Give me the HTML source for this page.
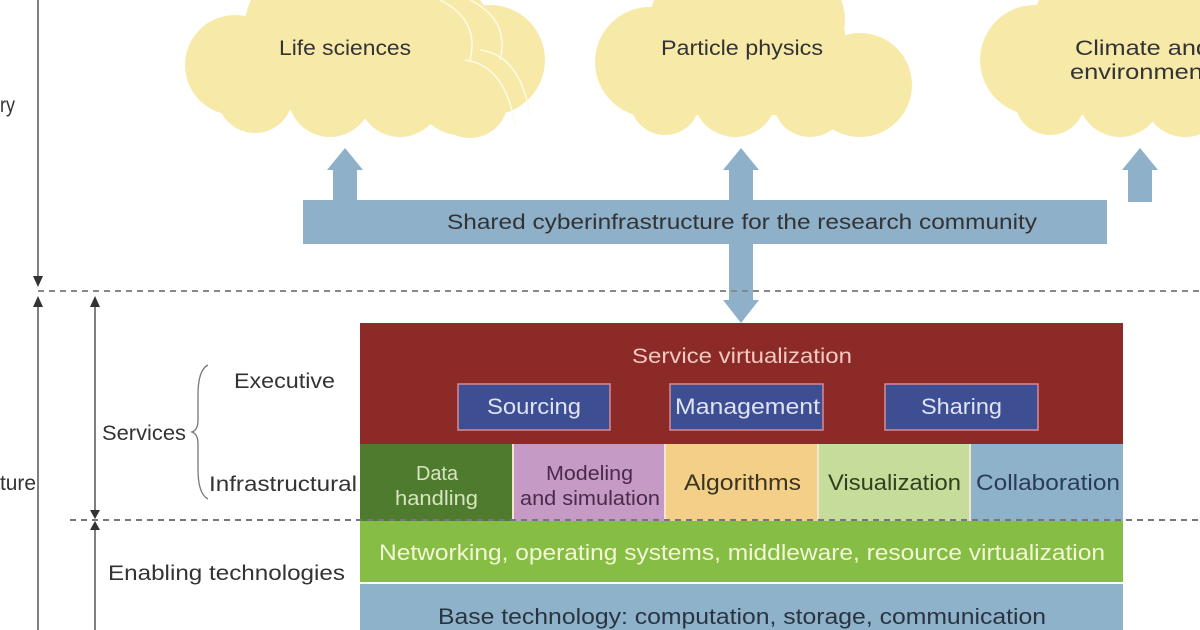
<!DOCTYPE html>
<html><head><meta charset="utf-8"><style>
html,body{margin:0;padding:0;background:#fff;}
svg{display:block;}
text{font-family:"Liberation Sans",sans-serif;}
</style></head><body>
<svg width="1200" height="630" viewBox="0 0 1200 630" xmlns="http://www.w3.org/2000/svg">
<rect width="1200" height="630" fill="#fff"/>
<g fill="#f7e9a8">
 <circle cx="490" cy="60" r="55"/><circle cx="470" cy="100" r="38"/>
 <circle cx="440" cy="30" r="50"/>
 <circle cx="235" cy="65" r="50"/><circle cx="255" cy="95" r="38"/>
 <circle cx="300" cy="25" r="55"/><circle cx="380" cy="20" r="55"/>
 <circle cx="330" cy="95" r="42"/><circle cx="400" cy="95" r="42"/>
 <circle cx="460" cy="90" r="45"/>
 <rect x="230" y="30" width="260" height="80"/>
 <circle cx="650" cy="62" r="55"/><circle cx="665" cy="100" r="35"/>
 <circle cx="700" cy="20" r="50"/><circle cx="790" cy="20" r="55"/>
 <circle cx="735" cy="95" r="42"/><circle cx="810" cy="100" r="37"/>
 <circle cx="860" cy="85" r="52"/>
 <rect x="645" y="30" width="200" height="85"/>
 <circle cx="1035" cy="60" r="55"/><circle cx="1050" cy="100" r="35"/>
 <circle cx="1090" cy="20" r="55"/><circle cx="1170" cy="20" r="55"/>
 <circle cx="1120" cy="95" r="42"/><circle cx="1185" cy="95" r="42"/>
 <rect x="1030" y="20" width="170" height="95"/>
</g>
<path d="M440 0 q40 20 30 60 M470 0 q40 20 30 60 M465 60 q40 5 50 65 M480 50 q40 5 50 65" stroke="#fffbe6" stroke-width="1.5" fill="none"/>
<g fill="#333" font-size="21">
 <text x="279" y="55" textLength="132" lengthAdjust="spacingAndGlyphs">Life sciences</text>
 <text x="661" y="55" textLength="162" lengthAdjust="spacingAndGlyphs">Particle physics</text>
 <text x="1075" y="55" textLength="135" lengthAdjust="spacingAndGlyphs">Climate and</text>
 <text x="1070" y="79" textLength="140" lengthAdjust="spacingAndGlyphs">environment</text>
</g>
<g fill="#8fb0c9">
 <rect x="303" y="200" width="804" height="44"/>
 <rect x="333" y="168" width="24" height="34"/><polygon points="345,148 327,170 363,170"/>
 <rect x="1128" y="168" width="24" height="34"/><polygon points="1140,148 1122,170 1158,170"/>
 <rect x="729" y="168" width="24" height="136"/><polygon points="741,148 723,170 759,170"/>
 <polygon points="741,323 723,300 759,300"/>
</g>
<text x="447" y="229" font-size="21" textLength="590" lengthAdjust="spacingAndGlyphs" fill="#333">Shared cyberinfrastructure for the research community</text>
<line x1="38" y1="291" x2="1200" y2="291" stroke="#888" stroke-width="2" stroke-dasharray="6,5"/>
<rect x="360" y="323" width="763" height="121" fill="#8c2a27"/>
<text x="632" y="363" font-size="21" textLength="220" lengthAdjust="spacingAndGlyphs" fill="#f4c9c0">Service virtualization</text>
<g fill="#3e4e93" stroke="#d98a95" stroke-width="1.5">
 <rect x="458" y="384" width="152" height="46"/>
 <rect x="670" y="384" width="153" height="46"/>
 <rect x="885" y="384" width="153" height="46"/>
</g>
<g font-size="22" fill="#dfe3f5">
 <text x="487" y="414" textLength="94" lengthAdjust="spacingAndGlyphs">Sourcing</text>
 <text x="675" y="414" textLength="145" lengthAdjust="spacingAndGlyphs">Management</text>
 <text x="921" y="414" textLength="81" lengthAdjust="spacingAndGlyphs">Sharing</text>
</g>
<rect x="360" y="444" width="153" height="77" fill="#4f7b2e"/>
<rect x="513" y="444" width="152" height="77" fill="#c59bc5"/>
<rect x="665" y="444" width="153" height="77" fill="#f3cf87"/>
<rect x="818" y="444" width="152" height="77" fill="#c5dc9b"/>
<rect x="970" y="444" width="153" height="77" fill="#8fb2cb"/>
<g stroke="#f4e3d0" stroke-width="2"><line x1="513" y1="444" x2="513" y2="521"/><line x1="665" y1="444" x2="665" y2="521"/><line x1="818" y1="444" x2="818" y2="521"/><line x1="970" y1="444" x2="970" y2="521"/></g>
<g font-size="20">
 <text x="416" y="480" textLength="42" lengthAdjust="spacingAndGlyphs" fill="#d8e6c0">Data</text>
 <text x="395" y="505" textLength="83" lengthAdjust="spacingAndGlyphs" fill="#d8e6c0">handling</text>
 <text x="546" y="480" textLength="87" lengthAdjust="spacingAndGlyphs" fill="#4a2a4a">Modeling</text>
 <text x="520" y="505" textLength="140" lengthAdjust="spacingAndGlyphs" fill="#4a2a4a">and simulation</text>
 <text x="684" y="490" font-size="22" textLength="117" lengthAdjust="spacingAndGlyphs" fill="#3a3520">Algorithms</text>
 <text x="828" y="490" font-size="22" textLength="133" lengthAdjust="spacingAndGlyphs" fill="#2f3f20">Visualization</text>
 <text x="976" y="490" font-size="22" textLength="144" lengthAdjust="spacingAndGlyphs" fill="#2a3a5a">Collaboration</text>
</g>
<rect x="360" y="521" width="763" height="61" fill="#86bd44"/>
<text x="379" y="560" font-size="22" textLength="726" lengthAdjust="spacingAndGlyphs" fill="#f3f7d6">Networking, operating systems, middleware, resource virtualization</text>
<rect x="360" y="584" width="763" height="46" fill="#8fb2cb"/>
<text x="438" y="624" font-size="22" textLength="608" lengthAdjust="spacingAndGlyphs" fill="#2a3440">Base technology: computation, storage, communication</text>
<line x1="70" y1="520" x2="1200" y2="520" stroke="#777" stroke-width="2" stroke-dasharray="6,5"/>
<g stroke="#555" stroke-width="1.5">
 <line x1="38" y1="0" x2="38" y2="282"/>
 <line x1="38" y1="300" x2="38" y2="630"/>
 <line x1="95" y1="300" x2="95" y2="512"/>
 <line x1="95" y1="528" x2="95" y2="630"/>
</g>
<g fill="#333">
 <polygon points="38,287 33,276 43,276"/>
 <polygon points="38,296 33,307 43,307"/>
 <polygon points="95,296 90,307 100,307"/>
 <polygon points="95,519 90,510 100,510"/>
 <polygon points="95,521 90,530 100,530"/>
</g>
<path d="M208 365 q-10 5 -10 30 v25 q0 10 -6 12 q6 2 6 12 v25 q0 25 10 30" stroke="#777" stroke-width="1.3" fill="none"/>
<g font-size="21" fill="#333">
 <text x="0" y="112" textLength="15" lengthAdjust="spacingAndGlyphs">ry</text>
 <text x="0" y="490" textLength="36" lengthAdjust="spacingAndGlyphs">ture</text>
 <text x="102" y="440" textLength="84" lengthAdjust="spacingAndGlyphs">Services</text>
 <text x="234" y="388" textLength="101" lengthAdjust="spacingAndGlyphs">Executive</text>
 <text x="209" y="491" textLength="148" lengthAdjust="spacingAndGlyphs">Infrastructural</text>
 <text x="108" y="580" textLength="237" lengthAdjust="spacingAndGlyphs">Enabling technologies</text>
</g>
</svg>
</body></html>
